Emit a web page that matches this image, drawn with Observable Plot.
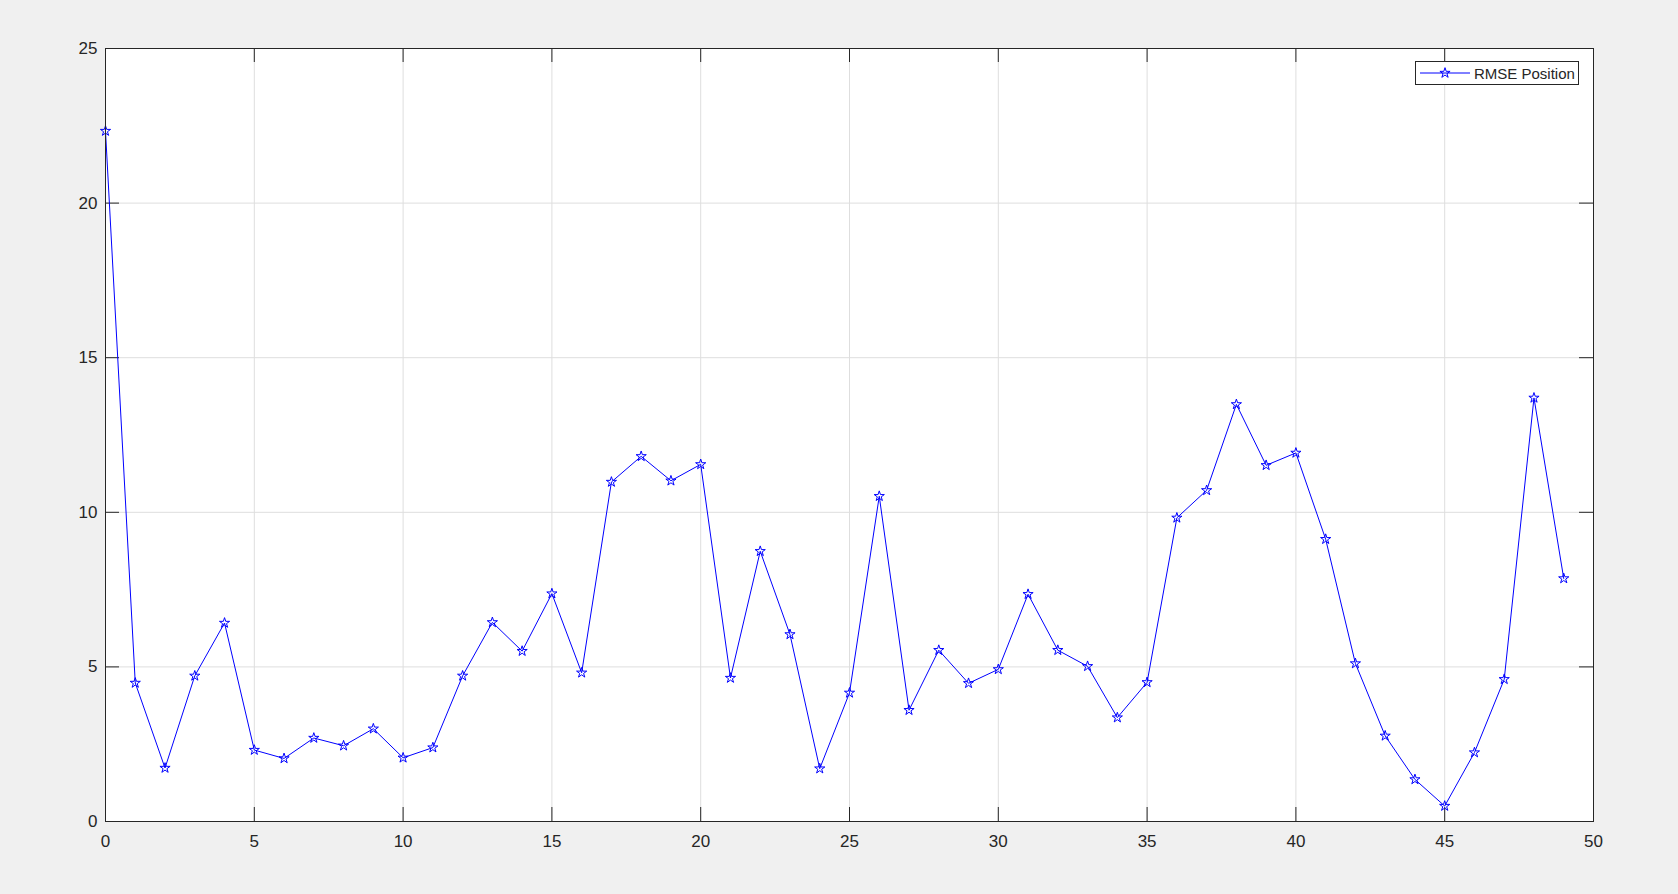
<!DOCTYPE html>
<html>
<head>
<meta charset="utf-8">
<script src="https://cdn.jsdelivr.net/npm/d3@7"></script>
<script src="https://cdn.jsdelivr.net/npm/@observablehq/plot@0.6"></script>
<style>
  html, body { margin: 0; padding: 0; background: #f0f0f0; }
  #wrap { position: relative; width: 1678px; height: 894px; font-family: "Liberation Sans", Arial, Helvetica, sans-serif; }
  #legend {
    position: absolute; left: 1415px; top: 61px; width: 164px; height: 24px;
    box-sizing: border-box; border: 1px solid #262626; background: #fff;
    display: flex; align-items: center; font-size: 15px; color: #262626;
  }
  #legend svg { display: block; flex: none; }
</style>
</head>
<body>
<div id="wrap"></div>
<script>
// ---- data ----
const step = [0,1,2,3,4,5,6,7,8,9,10,11,12,13,14,15,16,17,18,19,20,21,22,23,24,25,26,27,28,29,30,31,32,33,34,35,36,37,38,39,40,41,42,43,44,45,46,47,48,49];
const rmsePosition = [22.33,4.48,1.73,4.71,6.42,2.31,2.04,2.70,2.45,3.00,2.06,2.39,4.71,6.44,5.51,7.37,4.81,10.98,11.81,11.02,11.55,4.64,8.74,6.05,1.71,4.16,10.52,3.60,5.54,4.47,4.92,7.35,5.54,5.02,3.36,4.50,9.82,10.71,13.49,11.52,11.92,9.13,5.11,2.77,1.36,0.50,2.23,4.60,13.70,7.86];
const xTicks = [0,5,10,15,20,25,30,35,40,45,50];
const yTicks = [0,5,10,15,20,25];
const seriesName = "RMSE Position";

const data = step.map((s, i) => ({step: s, value: rmsePosition[i]}));

const W = 1678, H = 894;
const mL = 105, mR = 85, mT = 48, mB = 73;
const innerW = W - mL - mR, innerH = H - mT - mB;
const tickLen = 14;
const axisColor = "#262626";
const gridColor = "#dedede";
const blue = "#0000ff";

const chart = Plot.plot({
  width: W, height: H,
  marginLeft: mL, marginRight: mR, marginTop: mT, marginBottom: mB,
  style: {background: "#f0f0f0", fontFamily: "'Liberation Sans', Arial, Helvetica, sans-serif", fontSize: "17px", color: axisColor},
  x: {domain: [0, 50]},
  y: {domain: [0, 25]},
  marks: [
    Plot.frame({fill: "white", stroke: null}),
    Plot.gridX(xTicks, {stroke: gridColor, strokeOpacity: 1}),
    Plot.gridY(yTicks, {stroke: gridColor, strokeOpacity: 1}),
    // inward ticks on all four sides
    Plot.ruleX(xTicks, {stroke: axisColor, insetTop: innerH - tickLen}),
    Plot.ruleX(xTicks, {stroke: axisColor, insetBottom: innerH - tickLen}),
    Plot.ruleY(yTicks, {stroke: axisColor, insetRight: innerW - tickLen}),
    Plot.ruleY(yTicks, {stroke: axisColor, insetLeft: innerW - tickLen}),
    Plot.axisX(xTicks, {tickSize: 0, tickPadding: 13, fontSize: 17, fill: axisColor, label: null}),
    Plot.axisY(yTicks, {tickSize: 0, tickPadding: 8, fontSize: 17, fill: axisColor, label: null}),
    Plot.line(data, {x: "step", y: "value", stroke: blue, strokeWidth: 1}),
    Plot.dot(data, {x: "step", y: "value", symbol: "star", r: 3.2, stroke: blue, fill: "none", strokeWidth: 1}),
    Plot.frame({stroke: axisColor, strokeWidth: 1})
  ]
});

const wrap = document.getElementById("wrap");
wrap.appendChild(chart);

// legend (inside axes, top-right)
const legend = document.createElement("div");
legend.id = "legend";
const starPath = d3.symbol(d3.symbolStar, 3.2 * 3.2 * Math.PI)();
legend.innerHTML =
  `<svg width="58" height="22" viewBox="0 0 58 22">
     <line x1="4" x2="54" y1="11" y2="11" stroke="${blue}" stroke-width="1"/>
     <path d="${starPath}" transform="translate(29,11)" fill="none" stroke="${blue}" stroke-width="1"/>
   </svg><span style="margin-left:0px">${seriesName}</span>`;
wrap.appendChild(legend);
</script>
</body>
</html>
